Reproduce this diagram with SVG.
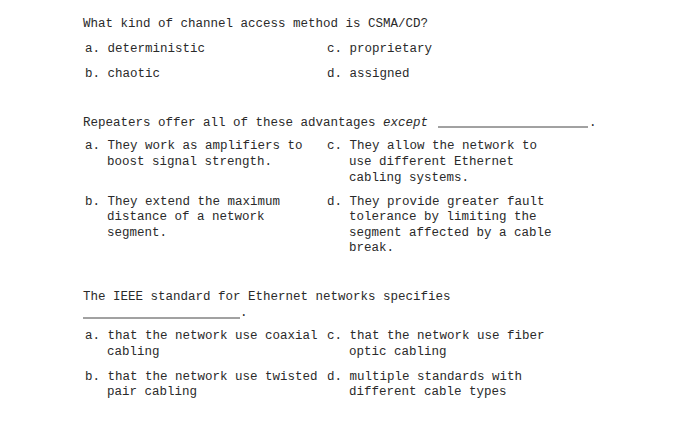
<svg xmlns="http://www.w3.org/2000/svg" width="700" height="430" viewBox="0 0 700 430">
<style>
text{font-family:"Liberation Mono","Courier New",monospace;font-size:12.5px;fill:#2a2a2a}
.u{stroke:#444;stroke-width:1}
</style>
<rect width="700" height="430" fill="#fff"/>
<g id="q1">
<text x="83" y="27">What kind of channel access method is CSMA/CD?</text>
<text x="85" y="52">a. deterministic</text>
<text x="327" y="52">c. proprietary</text>
<text x="85" y="77">b. chaotic</text>
<text x="327" y="77">d. assigned</text>
</g>
<g id="q2">
<text x="83" y="126">Repeaters offer all of these advantages <tspan font-style="italic">except</tspan></text>
<line class="u" x1="438" y1="127" x2="588" y2="127"/>
<text x="589" y="126">.</text>
<text x="85" y="149">a. They work as amplifiers to</text>
<text x="107" y="165">boost signal strength.</text>
<text x="327" y="149">c. They allow the network to</text>
<text x="349" y="165">use different Ethernet</text>
<text x="349" y="181">cabling systems.</text>
<text x="85" y="205">b. They extend the maximum</text>
<text x="107" y="220">distance of a network</text>
<text x="107" y="236">segment.</text>
<text x="327" y="205">d. They provide greater fault</text>
<text x="349" y="220">tolerance by limiting the</text>
<text x="349" y="236">segment affected by a cable</text>
<text x="349" y="251">break.</text>
</g>
<g id="q3">
<text x="83" y="300">The IEEE standard for Ethernet networks specifies</text>
<line class="u" x1="83" y1="318" x2="240" y2="318"/>
<text x="240" y="316">.</text>
<text x="85" y="339">a. that the network use coaxial</text>
<text x="107" y="355">cabling</text>
<text x="327" y="339">c. that the network use fiber</text>
<text x="349" y="355">optic cabling</text>
<text x="85" y="380">b. that the network use twisted</text>
<text x="107" y="395">pair cabling</text>
<text x="327" y="380">d. multiple standards with</text>
<text x="349" y="395">different cable types</text>
</g>
</svg>
